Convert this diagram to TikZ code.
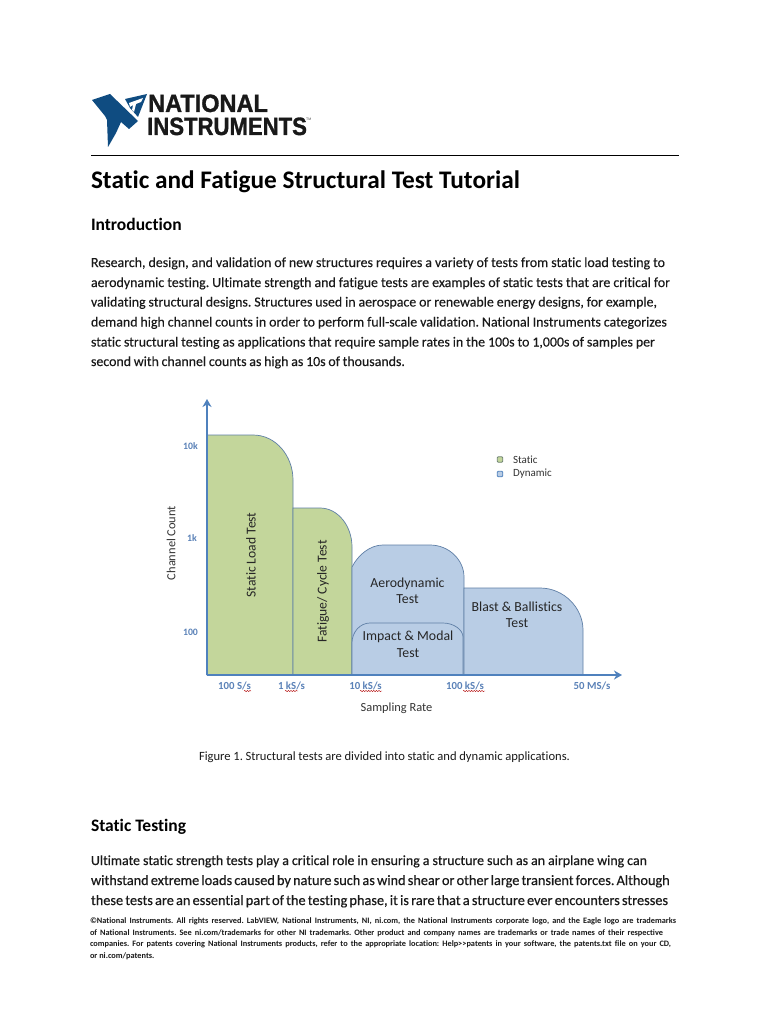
\documentclass[tikz,border=0pt]{standalone}
\usepackage{fontspec}
\setmainfont{Carlito}[Ligatures=NoCommon]
\newfontfamily\bodyfont{Carlito}[Ligatures=NoCommon,FakeBold=0.2]
\newfontfamily\strongfont{Carlito}[Ligatures=NoCommon,FakeBold=0.4]
\newfontfamily\logofont{Liberation Sans}[BoldFeatures={FakeBold=1.2}]
\usetikzlibrary{arrows.meta,decorations.pathmorphing}
\definecolor{nigreen}{HTML}{C3D69B}
\definecolor{niblue}{HTML}{B9CDE5}
\definecolor{niedge}{HTML}{5F7FA6}
\definecolor{niaxis}{HTML}{4F81BD}
\definecolor{nilabel}{HTML}{5B82B8}
\definecolor{nilogo}{HTML}{0F4C81}
\definecolor{nitext}{HTML}{1A1A1A}
\newcommand{\fitline}[2]{\makebox[#1pt][s]{#2}}
\frenchspacing
\tikzset{
  x=1pt,y=-1pt,
  line/.style={anchor=base west,inner sep=0pt,outer sep=0pt,text=nitext,font=\bodyfont\fontsize{13.9}{15}\selectfont},
  strongline/.style={line,font=\strongfont\fontsize{14.3}{16}\selectfont},
  foot/.style={anchor=base west,inner sep=0pt,outer sep=0pt,text=nitext,font=\fontsize{8.3}{9}\bfseries\selectfont},
  head/.style={anchor=base west,inner sep=0pt,outer sep=0pt,text=black,font=\fontsize{17.5}{19}\bfseries\selectfont},
  chart/.style={inner sep=0pt,outer sep=0pt,text=black!85,font=\fontsize{13.8}{16.5}\selectfont,align=center},
  tick/.style={inner sep=0pt,outer sep=0pt,text=nilabel,font=\fontsize{9.8}{11}\bfseries\selectfont},
  xtick/.style={tick,font=\fontsize{10.8}{12}\bfseries\selectfont},
  axislabel/.style={inner sep=0pt,outer sep=0pt,text=black!80,font=\fontsize{12.4}{14}\selectfont},
  legendtext/.style={axislabel,anchor=west,font=\fontsize{11}{13}\selectfont},
  greenarea/.style={fill=nigreen,draw=niedge,line width=0.7pt},
  bluearea/.style={fill=niblue,draw=niedge,line width=0.7pt},
  axisline/.style={draw=niaxis,line width=2.2pt,-{Stealth[length=8pt,width=9pt,inset=2.5pt]}},
  squiggle/.style={draw=red!70!black,line width=0.4pt,decorate,decoration={snake,amplitude=0.6pt,segment length=2.6pt}},
  swatch/.style={minimum size=5.5pt,inner sep=0pt,rounded corners=1pt,line width=0.9pt},
  logotext/.style={anchor=base west,inner sep=0pt,transform shape,font=\logofont\bfseries\fontsize{25}{26}\selectfont,text=black!90},
}
\begin{document}
\begin{tikzpicture}
\useasboundingbox (0,0) rectangle (768,1024);
\fill[white] (0,0) rectangle (768,1024);
% logo
\fill[nilogo] (92,100) -- (110,94) -- (138,121) -- (129,129) -- (121,122) -- (116,133) -- (108,147) -- (107,120) -- (105,116) -- cycle;
\fill[nilogo] (125,99) -- (147,94) -- (138,117) -- (130,108) -- cycle;
\fill[white] (129,103) -- (143,98) -- (141,102) -- (136,104) -- (134,112) -- (132,110) -- (133,105) -- (130,107) -- cycle;
\node[logotext,xscale=.94] (logoa) at (148,112) {NATIONAL};
\node[logotext,xscale=.885] (logob) at (147,135) {INSTRUMENTS};
\node[anchor=base west,inner sep=0pt,font=\logofont\fontsize{3.5}{4}\selectfont,text=black!70] (logotm) at (306,121) {TM};
\draw[black,line width=0.9pt] (91,155.5) -- (679,155.5);
% headings
\node[head,font=\fontsize{25.3}{27}\bfseries\selectfont] (title) at (91,189) {Static and Fatigue Structural Test Tutorial};
\node[head] (intro) at (91,231) {Introduction};
% intro text
\node[line] (p1) at (91,267) {\fitline{574}{Research, design, and validation of new structures requires a variety of tests from static load testing to}};
\node[line] (p2) at (91,287) {\fitline{579}{aerodynamic testing. Ultimate strength and fatigue tests are examples of static tests that are critical for}};
\node[line] (p3) at (91,306.5) {\fitline{566}{validating structural designs. Structures used in aerospace or renewable energy designs, for example,}};
\node[line] (p4) at (91,326.5) {\fitline{576}{demand high channel counts in order to perform full-scale validation. National Instruments categorizes}};
\node[line] (p5) at (91,346.5) {\fitline{564}{static structural testing as applications that require sample rates in the 100s to 1,000s of samples per}};
\node[line] (p6) at (91,366) {\fitline{314}{second with channel counts as high as 10s of thousands.}};
% chart areas
\path[greenarea] (207,675) -- (207,435) -- (253,435) .. controls (276,435) and (293,456) .. (293,480) -- (293,675) -- cycle;
\path[greenarea] (293,675) -- (293,508) -- (320,508) .. controls (338,508) and (352,526) .. (352,547) -- (352,675) -- cycle;
\path[bluearea] (352,675) -- (352,567) .. controls (358,555) and (370,545) .. (383,545) -- (430,545) .. controls (449,545) and (464,560) .. (464,577) -- (464,675) -- cycle;
\path[bluearea] (464,675) -- (464,588) -- (540,588) .. controls (564,588) and (583,608) .. (583,630) -- (583,675) -- cycle;
\path[bluearea] (352,675) -- (352,643) .. controls (352,632) and (360,623) .. (370,623) -- (443,623) .. controls (454,623) and (463,630) .. (463,637) -- (463,675) -- cycle;
% axes
\coordinate (origin) at (207,675);
\coordinate (ytip) at (207,399);
\coordinate (xtip) at (622,675);
\draw[axisline] (origin) -- (ytip);
\draw[axisline] (origin) -- (xtip);
% chart labels
\node[chart,rotate=90,font=\fontsize{13.6}{16}\selectfont] (sl) at (251,555) {Static Load Test};
\node[chart,rotate=90,font=\fontsize{13.6}{16}\selectfont] (fc) at (323,591.5) {Fatigue/ Cycle Test};
\node[chart] (aero) at (407.5,591) {Aerodynamic\\Test};
\node[chart] (imp) at (408,644.5) {Impact \& Modal\\Test};
\node[chart] (blast) at (517,615) {Blast \& Ballistics\\Test};
\node[tick] (k10) at (190.5,446) {10k};
\node[tick] (k1) at (192,538.5) {1k};
\node[tick] (h100) at (190.5,632) {100};
\node[xtick] (s100) at (234.5,685.5) {100 S/s};
\node[xtick] (ks1) at (291.5,685.5) {1 kS/s};
\node[xtick] (ks10) at (365.5,685.5) {10 kS/s};
\node[xtick] (ks100) at (465,685.5) {100 kS/s};
\node[xtick] (ms50) at (592,685.5) {50 MS/s};
\draw[squiggle] (285,691) coordinate (qa) -- (298,691) coordinate (qa2);
\draw[squiggle] (360,691) coordinate (qb) -- (382,691) coordinate (qb2);
\draw[squiggle] (463,691) coordinate (qc) -- (485,691) coordinate (qc2);
\draw[squiggle] (244,691) coordinate (qd) -- (251,691) coordinate (qd2);
\node[axislabel,rotate=90] (cc) at (171,543) {Channel Count};
\node[axislabel] (sr) at (396.5,708) {Sampling Rate};
% legend
\node[swatch,fill=nigreen,draw=niaxis!30!nigreen!70!black] (lg) at (500,459.5) {};
\node[swatch,fill=niblue,draw=niaxis] (lb) at (500,474) {};
\node[legendtext] (lgt) at (513,460) {Static};
\node[legendtext] (lbt) at (513,474) {Dynamic};
% caption
\node[line,font=\fontsize{12.6}{14}\selectfont] (cap) at (199,760) {\fitline{371}{Figure 1. Structural tests are divided into static and dynamic applications.}};
% static testing
\node[head] (st) at (91,831) {Static Testing};
\node[strongline,font=\strongfont\fontsize{13.9}{16}\selectfont] (q1) at (91,865) {\fitline{556}{Ultimate static strength tests play a critical role in ensuring a structure such as an airplane wing can}};
\node[strongline] (q2) at (91,885) {\fitline{576}{withstand extreme loads caused by nature such as wind shear or other large transient forces. Although}};
\node[strongline] (q3) at (91,905) {\fitline{577}{these tests are an essential part of the testing phase, it is rare that a structure ever encounters stresses}};
% footer
\node[foot] (f1) at (90,923.5) {\fitline{586}{©National Instruments.  All rights reserved.  LabVIEW, National Instruments, NI, ni.com, the National Instruments corporate logo, and the Eagle logo are trademarks}};
\node[foot] (f2) at (90,935) {\fitline{573}{of National Instruments.  See ni.com/trademarks for other NI trademarks.  Other product and company names are trademarks or trade names of their respective}};
\node[foot] (f3) at (90,946.5) {\fitline{581}{companies.  For patents covering National Instruments products, refer to the appropriate location: Help{>}{>}patents in your software, the patents.txt file on your CD,}};
\node[foot] (f4) at (90,958) {or ni.com/patents.};
\end{tikzpicture}
\end{document}
